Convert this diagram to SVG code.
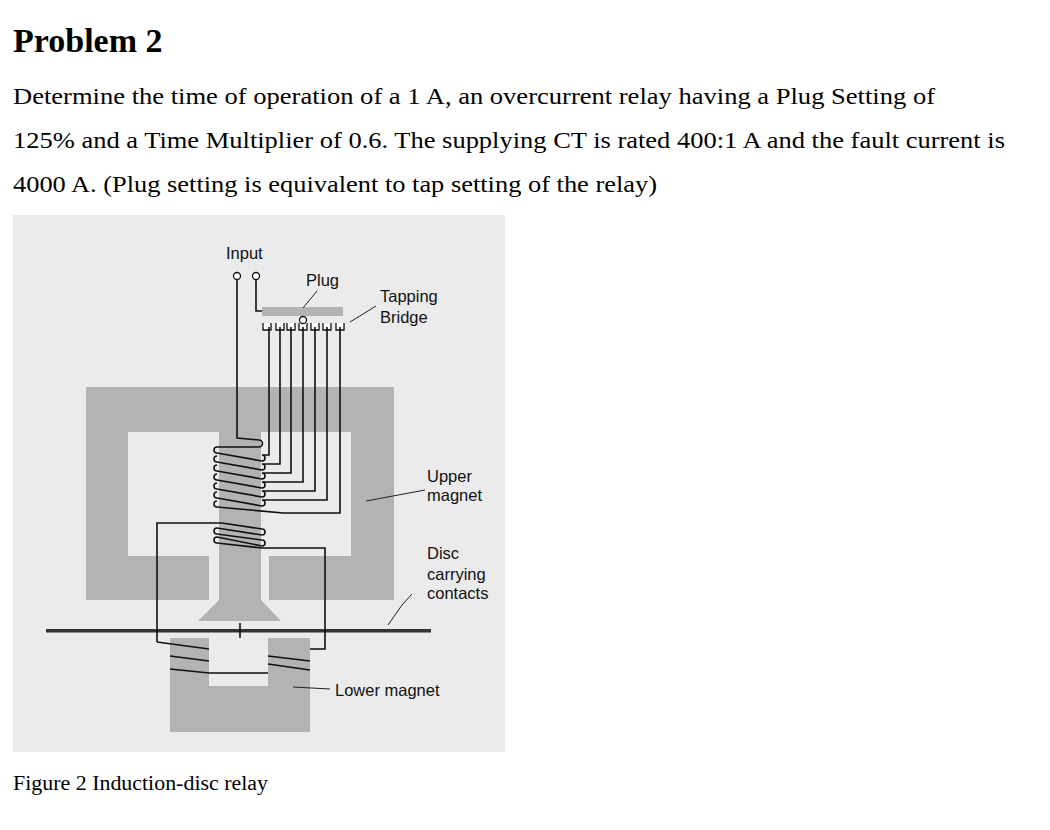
<svg xmlns="http://www.w3.org/2000/svg" width="1050" height="830" viewBox="0 0 1050 830">
<style>
.t{font-family:"Liberation Serif",serif;fill:#000}
.s{font-family:"Liberation Sans",Arial,sans-serif;font-size:16.5px;fill:#111}
.w{fill:none;stroke:#111;stroke-width:1.6}
.l{fill:none;stroke:#222;stroke-width:1}
.m{fill:#b3b3b3}
</style>
<rect width="1050" height="830" fill="#fff"/>
<text class="t" x="13" y="52" font-size="34" font-weight="bold">Problem 2</text>
<text class="t" x="13" y="104" font-size="24" textLength="922" lengthAdjust="spacingAndGlyphs">Determine the time of operation of a 1 A, an overcurrent relay having a Plug Setting of</text>
<text class="t" x="13" y="148" font-size="24" textLength="992" lengthAdjust="spacingAndGlyphs">125% and a Time Multiplier of 0.6. The supplying CT is rated 400:1 A and the fault current is</text>
<text class="t" x="13" y="192" font-size="24" textLength="644" lengthAdjust="spacingAndGlyphs">4000 A. (Plug setting is equivalent to tap setting of the relay)</text>
<text class="t" x="13" y="790" font-size="20" textLength="255" lengthAdjust="spacingAndGlyphs">Figure 2 Induction-disc relay</text>
<rect x="13" y="215" width="492" height="537" fill="#ebebeb"/>
<g id="upper-magnet">
<path class="m" d="M86 387H394V600H269V556H351V432H261V600H219V432H128V556H209V600H86Z"/>
<path class="m" d="M219 600H261L281 621H198Z"/>
</g>
<g id="lower-magnet"><path class="m" d="M170 638H209V686H268V638H310V732H170Z"/></g>
<g id="disc">
<rect x="46" y="629" width="385" height="3.5" fill="#333"/>
<line x1="240" y1="623" x2="240" y2="638" stroke="#111" stroke-width="1.6"/>
</g>
<g id="tapping-bridge">
<rect x="262" y="307" width="81" height="9" fill="#b3b3b3"/>
<g fill="#fff" stroke="#111" stroke-width="1.3">
<path d="M263 323v7h8v-7M276 323v7h8v-7M287 323v7h8v-7M299 323v7h8v-7M311 323v7h8v-7M323 323v7h8v-7M336 323v7h8v-7"/>
</g>
<circle cx="303" cy="320" r="3.5" fill="#fff" stroke="#111" stroke-width="1.3"/>
</g>
<g id="input">
<circle cx="237" cy="276" r="3.5" fill="#fff" stroke="#111" stroke-width="1.3"/>
<circle cx="256" cy="276" r="3.5" fill="#fff" stroke="#111" stroke-width="1.3"/>
</g>
<g id="connectors">
<path class="w" d="M256 280V311H262"/>
<path class="w" d="M237 280V438L259 440A3.5 3.5 0 0 1 259 447L217 447"/>
<g id="coil-upper">
<path class="w" d="M217 447A3 3 0 0 0 217 453L262 461A3 3 0 0 0 262 455H269V327"/>
<path class="w" d="M217 456A3 3 0 0 0 217 462L262 470A3 3 0 0 0 262 464H280V327"/>
<path class="w" d="M217 465A3 3 0 0 0 217 471L262 479A3 3 0 0 0 262 473H291V327"/>
<path class="w" d="M217 474A3 3 0 0 0 217 480L262 488A3 3 0 0 0 262 482H303V327"/>
<path class="w" d="M217 483A3 3 0 0 0 217 489L262 497A3 3 0 0 0 262 491H315V327"/>
<path class="w" d="M217 492A3 3 0 0 0 217 498L262 506A3 3 0 0 0 262 500H327V327"/>
<path class="w" d="M217 501A3 3 0 0 0 217 507L283 513H340V327"/>
</g>
<g id="coil-lower">
<path class="w" d="M157 642V523H222L262 529A3 3 0 0 1 262 535L217 528"/>
<path class="w" d="M217 528A3 3 0 0 0 217 534L262 540A3 3 0 0 1 262 546L217 537A3 3 0 0 0 217 543L262 548H325V649H310"/>
<path class="w" d="M157 642L209 649M170 656L209 661M170 669L209 673H268M268 656L310 661M268 664L310 670"/>
</g>
<g id="leaders">
<path class="l" d="M303 308L317 291"/>
<path class="l" d="M350 322L376 306"/>
<path class="l" d="M366 501L425 490"/>
<path class="l" d="M388 625L402 605L412 594"/>
<path class="l" d="M293 687L330 689"/>
</g>
</g>
<g id="labels">
<text class="s" x="226" y="259">Input</text>
<text class="s" x="306" y="286">Plug</text>
<text class="s" x="380" y="302">Tapping</text>
<text class="s" x="380" y="323">Bridge</text>
<text class="s" x="427" y="482">Upper</text>
<text class="s" x="427" y="501">magnet</text>
<text class="s" x="427" y="559">Disc</text>
<text class="s" x="427" y="580">carrying</text>
<text class="s" x="427" y="599">contacts</text>
<text class="s" x="335" y="696">Lower magnet</text>
</g>
</svg>
